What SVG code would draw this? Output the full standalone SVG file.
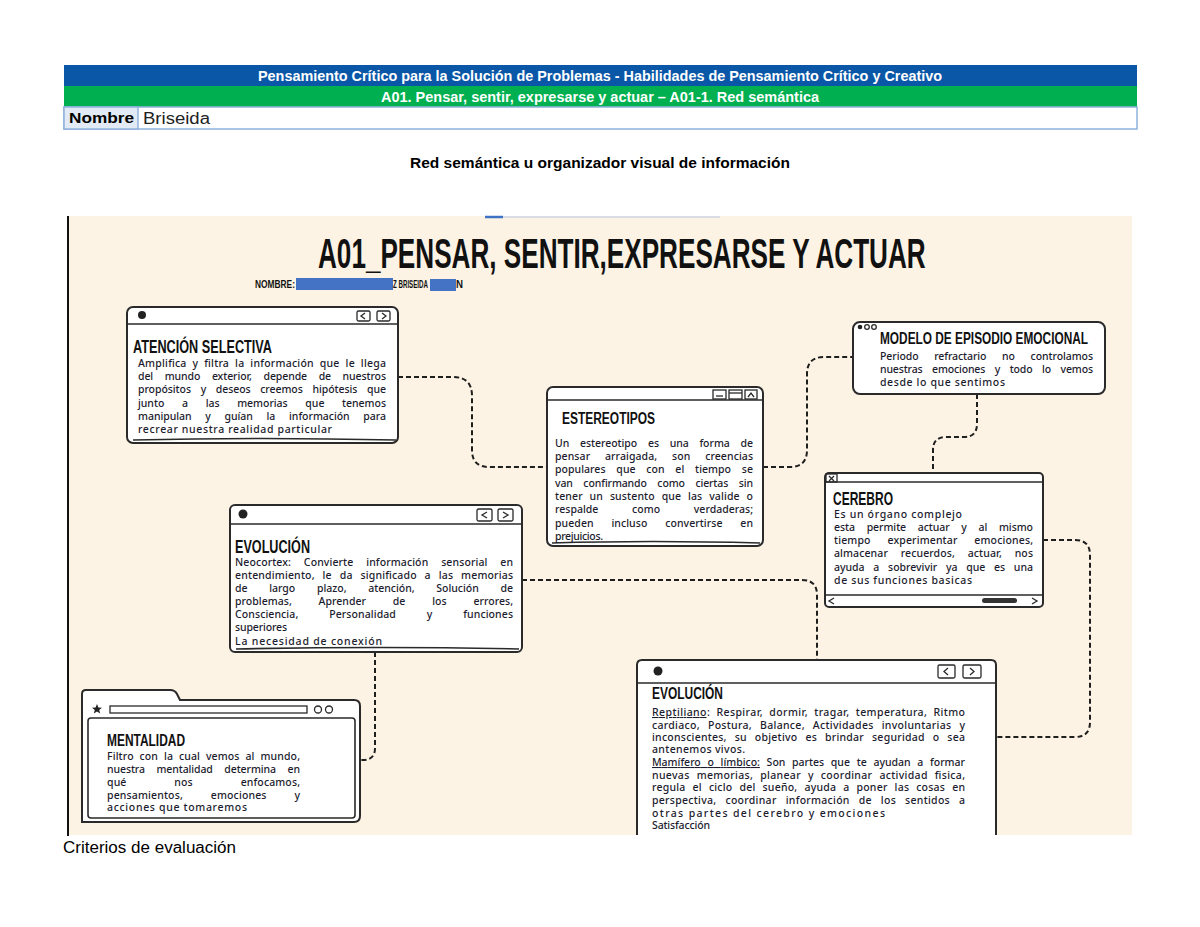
<svg xmlns="http://www.w3.org/2000/svg" width="1200" height="927" viewBox="0 0 1200 927">
<style>
.b{font-family:"Noto Sans","Open Sans",sans-serif;font-size:10.5px;font-weight:500;fill:#1c1c2e}
.h{font-family:"Liberation Sans",Arial,sans-serif;font-weight:bold;fill:#111}
.box{fill:#fff;stroke:#2a2a2a;stroke-width:2}
.ln{fill:none;stroke:#2a2a2a;stroke-width:1.6}
.ic{fill:none;stroke:#2a2a2a;stroke-width:1.3}
.conn{fill:none;stroke:#1e1e1e;stroke-width:2;stroke-dasharray:5 3}
.hd{font-family:"Liberation Sans",Arial,sans-serif;font-weight:bold;font-size:14px;fill:#fff}
</style>
<rect width="1200" height="927" fill="#fff"/>
<g id="header">
<rect x="64" y="65" width="1073" height="21" fill="#0a57a8"/>
<rect x="64" y="86" width="1073" height="21" fill="#00b050"/>
<rect x="64" y="107" width="1073" height="22" fill="#fff" stroke="#8fb2dd" stroke-width="1.5"/>
<rect x="64" y="107" width="74" height="22" fill="#e2eaf5" stroke="#8fb2dd" stroke-width="1.5"/>
<text class="hd" x="600" y="81" text-anchor="middle" textLength="684" lengthAdjust="spacingAndGlyphs">Pensamiento Crítico para la Solución de Problemas - Habilidades de Pensamiento Crítico y Creativo</text>
<text class="hd" x="600" y="102" text-anchor="middle" textLength="438" lengthAdjust="spacingAndGlyphs">A01. Pensar, sentir, expresarse y actuar – A01-1. Red semántica</text>
<text x="69" y="123" font-family="Liberation Sans,Arial,sans-serif" font-weight="bold" font-size="14" fill="#000" textLength="65" lengthAdjust="spacingAndGlyphs">Nombre</text>
<text x="143" y="124" font-family="Liberation Sans,Arial,sans-serif" font-size="16" fill="#222" textLength="67" lengthAdjust="spacingAndGlyphs">Briseida</text>
<text x="600" y="168" text-anchor="middle" font-family="Liberation Sans,Arial,sans-serif" font-weight="bold" font-size="15" fill="#000" textLength="380" lengthAdjust="spacingAndGlyphs">Red semántica u organizador visual de información</text>
</g>
<rect x="69" y="216" width="1063" height="619" fill="#fdf3e4"/>
<line x1="68" y1="216" x2="68" y2="836" stroke="#111" stroke-width="2"/>
<line x1="503" y1="217" x2="720" y2="217" stroke="#d9dce4" stroke-width="2"/>
<line x1="485" y1="217" x2="503" y2="217" stroke="#3d72c4" stroke-width="2.5"/>
<text class="h" transform="translate(318 268) scale(0.622 1)" x="0" y="0" font-size="42">A01_PENSAR, SENTIR,EXPRESARSE Y ACTUAR</text>
<g id="nombre">
<text class="h" x="255" y="288" font-size="10" textLength="40" lengthAdjust="spacingAndGlyphs">NOMBRE:</text>
<rect x="296" y="278" width="97" height="12" fill="#4472c4"/>
<text class="h" x="393" y="288" font-size="10" textLength="35" lengthAdjust="spacingAndGlyphs">Z BRISEIDA</text>
<rect x="430" y="279" width="26" height="12" fill="#4472c4"/>
<text class="h" x="456" y="288" font-size="10" textLength="7" lengthAdjust="spacingAndGlyphs">N</text>
</g>
<g id="connectors">
<path class="conn" d="M398 377 H453 Q472 377 472 396 V450 Q472 467 489 467 H547"/>
<path class="conn" d="M763 467 H790 Q807 467 807 450 V374 Q807 357 824 357 H853"/>
<path class="conn" d="M977 394 V424 Q977 437 964 437 H946 Q933 437 933 450 V473"/>
<path class="conn" d="M1043 540 H1075 Q1090 540 1090 555 V722 Q1090 737 1075 737 H996"/>
<path class="conn" d="M522 580 H802 Q817 580 817 595 V660"/>
<path class="conn" d="M375 652 V748 Q375 760 363 760 H360"/>
</g>
<g id="atencion">
<rect class="box" x="127" y="307" width="271" height="136" rx="6"/>
<line class="ln" x1="127" y1="324" x2="398" y2="324"/>
<path class="ln" d="M133 440 Q260 437 396 440"/>
<circle cx="142" cy="315" r="4" fill="#222"/>
<rect class="ic" x="357" y="311" width="13" height="10" rx="1.5"/>
<rect class="ic" x="377" y="311" width="13" height="10" rx="1.5"/>
<polyline class="ic" points="365,313 361,316 365,319"/>
<polyline class="ic" points="382,313 386,316 382,319"/>
<text class="h" x="133" y="353" font-size="19" textLength="139" lengthAdjust="spacingAndGlyphs">ATENCIÓN SELECTIVA</text>
<text class="b" x="138" y="367" textLength="248" word-spacing="3">Amplifica y filtra la información que le llega</text>
<text class="b" x="138" y="380" textLength="248" word-spacing="9">del mundo exterior, depende de nuestros</text>
<text class="b" x="138" y="393" textLength="248" word-spacing="7">propósitos y deseos creemos hipótesis que</text>
<text class="b" x="138" y="407" textLength="248" word-spacing="15">junto a las memorias que tenemos</text>
<text class="b" x="138" y="420" textLength="248" word-spacing="11">manipulan y guían la información para</text>
<text class="b" x="138" y="433" textLength="194">recrear nuestra realidad particular</text>
</g>
<g id="estereotipos">
<rect class="box" x="547" y="387" width="216" height="159" rx="6"/>
<line class="ln" x1="547" y1="400" x2="763" y2="400"/>
<path class="ln" d="M552 543 Q650 540 760 543"/>
<rect class="ic" x="713" y="390" width="13" height="9"/>
<line class="ic" x1="716" y1="396" x2="723" y2="396"/>
<rect class="ic" x="729" y="390" width="13" height="9"/>
<line class="ic" x1="729" y1="393" x2="742" y2="393"/>
<rect class="ic" x="745" y="390" width="12" height="9"/>
<polyline class="ic" points="748,397 751,393 754,397"/>
<text class="h" x="562" y="424" font-size="16" textLength="93" lengthAdjust="spacingAndGlyphs">ESTEREOTIPOS</text>
<text class="b" x="555" y="447" textLength="198" word-spacing="8">Un estereotipo es una forma de</text>
<text class="b" x="555" y="460" textLength="198" word-spacing="12">pensar arraigada, son creencias</text>
<text class="b" x="555" y="473" textLength="198" word-spacing="8">populares que con el tiempo se</text>
<text class="b" x="555" y="487" textLength="198" word-spacing="8">van confirmando como ciertas sin</text>
<text class="b" x="555" y="500" textLength="198" word-spacing="4">tener un sustento que las valide o</text>
<text class="b" x="555" y="513" textLength="198" word-spacing="31">respalde como verdaderas;</text>
<text class="b" x="555" y="527" textLength="198" word-spacing="15">pueden incluso convertirse en</text>
<text class="b" x="555" y="540" textLength="48">prejuicios.</text>
</g>
<g id="modelo">
<rect class="box" x="853" y="322" width="252" height="72" rx="7"/>
<circle cx="860" cy="327" r="2.3" fill="#222"/>
<circle cx="867" cy="327" r="2.3" class="ic"/>
<circle cx="874" cy="327" r="2.3" class="ic"/>
<text class="h" x="880" y="344" font-size="17" textLength="208" lengthAdjust="spacingAndGlyphs">MODELO DE EPISODIO EMOCIONAL</text>
<text class="b" x="880" y="360" textLength="213" word-spacing="13">Periodo refractario no controlamos</text>
<text class="b" x="880" y="373" textLength="213" word-spacing="7">nuestras emociones y todo lo vemos</text>
<text class="b" x="880" y="386" textLength="125">desde lo que sentimos</text>
</g>
<g id="cerebro">
<rect class="box" x="825" y="473" width="218" height="134" rx="4"/>
<line class="ln" x1="825" y1="482" x2="1043" y2="482"/>
<line class="ln" x1="825" y1="595" x2="1043" y2="595"/>
<rect class="ic" x="826" y="474" width="11" height="8"/>
<path class="ic" d="M829 476 L834 481 M834 476 L829 481"/>
<polyline class="ic" points="834,598 829,601 834,604"/>
<polyline class="ic" points="1032,598 1037,601 1032,604"/>
<rect x="982" y="598" width="35" height="5" rx="2.5" fill="#333"/>
<text class="h" x="833" y="505" font-size="18" textLength="60" lengthAdjust="spacingAndGlyphs">CEREBRO</text>
<text class="b" x="834" y="518" textLength="128">Es un órgano complejo</text>
<text class="b" x="834" y="531" textLength="199" word-spacing="9">esta permite actuar y al mismo</text>
<text class="b" x="834" y="544" textLength="199" word-spacing="14">tiempo experimentar emociones,</text>
<text class="b" x="834" y="557" textLength="199" word-spacing="10">almacenar recuerdos, actuar, nos</text>
<text class="b" x="834" y="571" textLength="199" word-spacing="6">ayuda a sobrevivir ya que es una</text>
<text class="b" x="834" y="584" textLength="138">de sus funciones basicas</text>
</g>
<g id="evolucion1">
<rect class="box" x="230" y="505" width="292" height="147" rx="5"/>
<line class="ln" x1="230" y1="524" x2="522" y2="524"/>
<path class="ln" d="M236 649 Q380 646 519 649"/>
<circle cx="243" cy="514" r="4.5" fill="#222"/>
<rect class="ic" x="477" y="509" width="15" height="12" rx="1.5"/>
<rect class="ic" x="498" y="509" width="15" height="12" rx="1.5"/>
<polyline class="ic" points="487,512 482,515 487,518"/>
<polyline class="ic" points="503,512 508,515 503,518"/>
<text class="h" x="235" y="553" font-size="19" textLength="75" lengthAdjust="spacingAndGlyphs">EVOLUCIÓN</text>
<text class="b" x="235" y="566" textLength="278" word-spacing="10">Neocortex: Convierte información sensorial en</text>
<text class="b" x="235" y="579" textLength="278" word-spacing="5">entendimiento, le da significado a las memorias</text>
<text class="b" x="235" y="592" textLength="278" word-spacing="19">de largo plazo, atención, Solución de</text>
<text class="b" x="235" y="605" textLength="278" word-spacing="24">problemas, Aprender de los errores,</text>
<text class="b" x="235" y="618" textLength="278" word-spacing="28">Consciencia, Personalidad y funciones</text>
<text class="b" x="235" y="631" textLength="52">superiores</text>
<text class="b" x="235" y="645" textLength="147">La necesidad de conexión</text>
</g>
<g id="evolucion2">
<path class="box" d="M637 835 V665 Q637 660 642 660 H991 Q996 660 996 665 V835"/>
<line class="ln" x1="637" y1="683" x2="996" y2="683"/>
<circle cx="658" cy="671" r="4.5" fill="#222"/>
<rect class="ic" x="938" y="665" width="17" height="13" rx="1.5"/>
<rect class="ic" x="963" y="665" width="18" height="13" rx="1.5"/>
<polyline class="ic" points="948,668 944,671.5 948,675"/>
<polyline class="ic" points="970,668 974,671.5 970,675"/>
<text class="h" x="652" y="699" font-size="17" textLength="71" lengthAdjust="spacingAndGlyphs">EVOLUCIÓN</text>
<text class="b" x="652" y="716" textLength="313" word-spacing="3"><tspan text-decoration="underline">Reptiliano</tspan>: Respirar, dormir, tragar, temperatura, Ritmo</text>
<text class="b" x="652" y="729" textLength="313" word-spacing="5">cardiaco, Postura, Balance, Actividades involuntarias y</text>
<text class="b" x="652" y="741" textLength="313" word-spacing="5">inconscientes, su objetivo es brindar seguridad o sea</text>
<text class="b" x="652" y="753" textLength="93">antenemos vivos.</text>
<text class="b" x="652" y="766" textLength="313" word-spacing="4"><tspan text-decoration="underline">Mamífero o límbico:</tspan> Son partes que te ayudan a formar</text>
<text class="b" x="652" y="779" textLength="313" word-spacing="4">nuevas memorias, planear y coordinar actividad fisica,</text>
<text class="b" x="652" y="791" textLength="313" word-spacing="4">regula el ciclo del sueño, ayuda a poner las cosas en</text>
<text class="b" x="652" y="804" textLength="313" word-spacing="6">perspectiva, coordinar información de los sentidos a</text>
<text class="b" x="652" y="817" textLength="233">otras partes del cerebro y emociones</text>
<text class="b" x="652" y="829" textLength="58">Satisfacción</text>
</g>
<g id="mentalidad">
<path class="box" d="M82 822 V694 Q82 690 86 690 H170 Q175 690 177 694 L180 700 H354 Q360 700 360 706 V816 Q360 822 354 822 Z"/>
<rect class="ln" x="88" y="718" width="267" height="100" rx="3"/>
<polygon points="97,704 98.4,707.6 102,707.8 99.2,710 100.2,713.6 97,711.6 93.8,713.6 94.8,710 92,707.8 95.6,707.6" fill="#222"/>
<rect class="ic" x="110" y="706" width="197" height="7"/>
<circle class="ic" cx="318" cy="709.5" r="3.5"/>
<circle class="ic" cx="329" cy="709.5" r="3.5"/>
<text class="h" x="107" y="746" font-size="16" textLength="78" lengthAdjust="spacingAndGlyphs">MENTALIDAD</text>
<text class="b" x="107" y="760" textLength="193" word-spacing="3">Filtro con la cual vemos al mundo,</text>
<text class="b" x="107" y="773" textLength="193" word-spacing="9">nuestra mentalidad determina en</text>
<text class="b" x="107" y="786" textLength="193" word-spacing="45">qué nos enfocamos,</text>
<text class="b" x="107" y="799" textLength="193" word-spacing="25">pensamientos, emociones y</text>
<text class="b" x="107" y="811" textLength="140">acciones que tomaremos</text>
</g>
<text x="63" y="853" font-family="Liberation Sans,Arial,sans-serif" font-size="16" fill="#000" textLength="173" lengthAdjust="spacingAndGlyphs">Criterios de evaluación</text>
</svg>
